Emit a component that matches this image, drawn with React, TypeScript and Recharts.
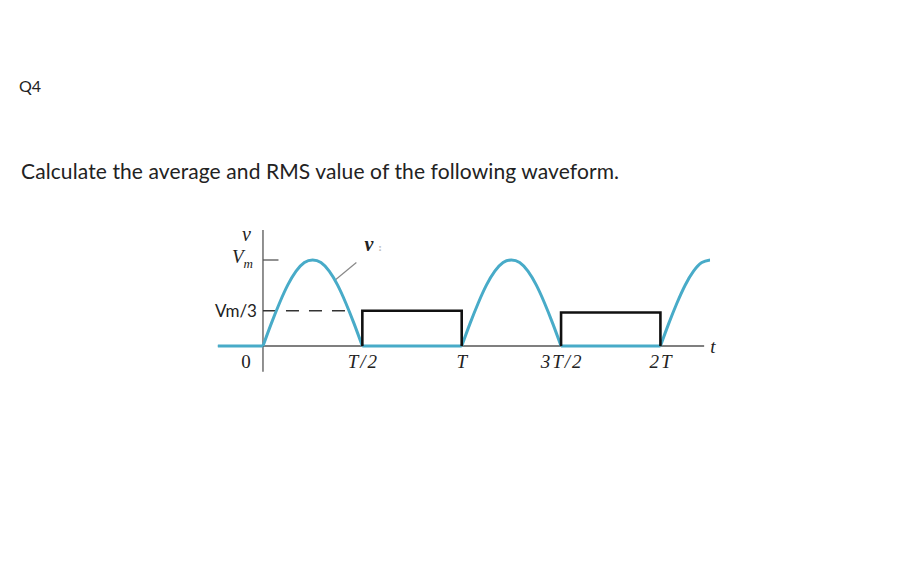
import React from 'react'
import { ComposedChart, Line, XAxis, YAxis, ReferenceLine, ReferenceDot } from 'recharts'

// waveform readings, in units of T (time) and Vm (voltage)
const halfWave = [0, 0.26, 0.5, 0.71, 0.87, 0.97, 1, 0.97, 0.87, 0.71, 0.5, 0.26, 0]
const humpStarts = [0, 1, 2]
const humpSampleCounts = [13, 13, 7] // last hump stops at its peak
const zeroRuns = [
  [-0.227, 0],
  [0.5, 1],
  [1.5, 2],
]
const pulseStarts = [0.5, 1.5]
const pulseEnds = [1, 2]
const pulseLevels = [0.41, 0.39]
const vmThird = 0.41
const tickTimes = [0, 0.5, 1, 1.5, 2]
const tickLabels = ['0', 'T/2', 'T', '3T/2', '2T']
const axisStart = -0.227
const axisEnd = 2.22

const CYAN = '#48abc8'
const AXIS = '#555'
const SERIF = '"Liberation Serif", "Times New Roman", serif'
const SANS = 'Lato, "Open Sans", sans-serif'

const step = 0.5 / (halfWave.length - 1)
const humps = humpStarts.map((s, k) =>
  halfWave.slice(0, humpSampleCounts[k]).map((v, i) => ({ t: s + i * step, v }))
)
const zeros = zeroRuns.map(([a, b]) => [
  { t: a, v: 0 },
  { t: b, v: 0 },
])
const pulses = pulseStarts.map((s, i) => [
  { t: s, v: 0 },
  { t: s, v: pulseLevels[i] },
  { t: pulseEnds[i], v: pulseLevels[i] },
  { t: pulseEnds[i], v: 0 },
])

const at =
  (dx: number, dy: number, body: React.ReactNode, extra: any = {}) =>
  (props: any) => {
    const vb = props.viewBox || {}
    return (
      <text x={vb.x + dx} y={vb.y + dy} fill="#222" {...extra}>
        {body}
      </text>
    )
  }

const serifItalic = { fontFamily: SERIF, fontStyle: 'italic', fontSize: 19 }

export default function App() {
  return (
    <div style={{ position: 'absolute', left: 0, top: 0, width: 921, height: 584, background: '#fff' }}>
      <svg width={921} height={584} style={{ position: 'absolute', left: 0, top: 0 }}>
        <text x={19} y={92} fontFamily={SANS} fontSize={16} fill="#222">
          Q4
        </text>
        <text
          x={21}
          y={178.5}
          fontFamily={SANS}
          fontSize={21}
          fill="#222"
          textLength={598}
          lengthAdjust="spacing"
        >
          Calculate the average and RMS value of the following waveform.
        </text>
      </svg>
      <div style={{ position: 'absolute', left: 0, top: 0 }}>
        <ComposedChart
          width={921}
          height={584}
          margin={{ top: 229.9, right: 210.9, left: 213.3, bottom: 212.2 }}
        >
          <XAxis type="number" dataKey="t" domain={[-0.25, 2.25]} hide allowDataOverflow />
          <YAxis type="number" domain={[-0.3, 1.35]} hide allowDataOverflow />

          {/* axes */}
          <ReferenceLine
            segment={[
              { x: axisStart, y: 0 },
              { x: axisEnd, y: 0 },
            ]}
            stroke={AXIS}
            strokeWidth={1.3}
          />
          <ReferenceLine x={0} stroke={AXIS} strokeWidth={1.3} />
          <ReferenceLine
            segment={[
              { x: 0, y: 1 },
              { x: 0.078, y: 1 },
            ]}
            stroke={AXIS}
            strokeWidth={1.3}
          />
          <ReferenceLine
            segment={[
              { x: 0, y: vmThird },
              { x: 0.43, y: vmThird },
            ]}
            stroke="#333"
            strokeWidth={1.3}
            strokeDasharray="13 10"
          />
          {/* leader line to the "v" label */}
          <ReferenceLine
            segment={[
              { x: 0.365, y: 0.77 },
              { x: 0.47, y: 0.97 },
            ]}
            stroke="#888"
            strokeWidth={1.2}
          />

          {zeros.map((d, i) => (
            <Line
              key={'z' + i}
              data={d}
              dataKey="v"
              type="linear"
              stroke={CYAN}
              strokeWidth={3}
              dot={false}
              isAnimationActive={false}
            />
          ))}
          {humps.map((d, i) => (
            <Line
              key={'h' + i}
              data={d}
              dataKey="v"
              type="natural"
              stroke={CYAN}
              strokeWidth={3}
              dot={false}
              isAnimationActive={false}
            />
          ))}
          {pulses.map((d, i) => (
            <Line
              key={'p' + i}
              data={d}
              dataKey="v"
              type="linear"
              stroke="#111"
              strokeWidth={2.6}
              strokeLinejoin="miter"
              dot={false}
              isAnimationActive={false}
            />
          ))}

          {/* labels */}
          {tickTimes.map((t, i) => (
            <ReferenceDot
              key={'t' + i}
              x={t}
              y={0}
              r={0}
              fill="none"
              stroke="none"
              label={
                i === 0
                  ? at(-17, 22, tickLabels[i], { fontFamily: SERIF, fontSize: 19, textAnchor: 'middle' })
                  : at(1, 22, tickLabels[i], { ...serifItalic, letterSpacing: 2, textAnchor: 'middle' })
              }
            />
          ))}
          <ReferenceDot
            x={axisEnd}
            y={0}
            r={0}
            fill="none"
            stroke="none"
            label={at(6, 7, 't', serifItalic)}
          />
          <ReferenceDot
            x={0}
            y={1.35}
            r={0}
            fill="none"
            stroke="none"
            label={at(-16.5, 11, 'v', { ...serifItalic, fontSize: 20, textAnchor: 'middle' })}
          />
          <ReferenceDot
            x={0}
            y={1}
            r={0}
            fill="none"
            stroke="none"
            label={at(
              -10,
              3,
              <>
                V
                <tspan dy={5} fontSize={13}>
                  m
                </tspan>
              </>,
              { ...serifItalic, fontSize: 19, textAnchor: 'end' }
            )}
          />
          <ReferenceDot
            x={0}
            y={vmThird}
            r={0}
            fill="none"
            stroke="none"
            label={at(-6, 6, 'Vm/3', { fontFamily: SANS, fontSize: 17, textAnchor: 'end' })}
          />
          <ReferenceDot
            x={0.47}
            y={0.97}
            r={0}
            fill="none"
            stroke="none"
            label={at(
              8,
              -12,
              <>
                v<tspan fill="#bbb" fontStyle="normal" fontSize={11} dx={5}>:</tspan>
              </>,
              { ...serifItalic, fontSize: 20, fontWeight: 'bold' }
            )}
          />
        </ComposedChart>
      </div>
    </div>
  )
}
